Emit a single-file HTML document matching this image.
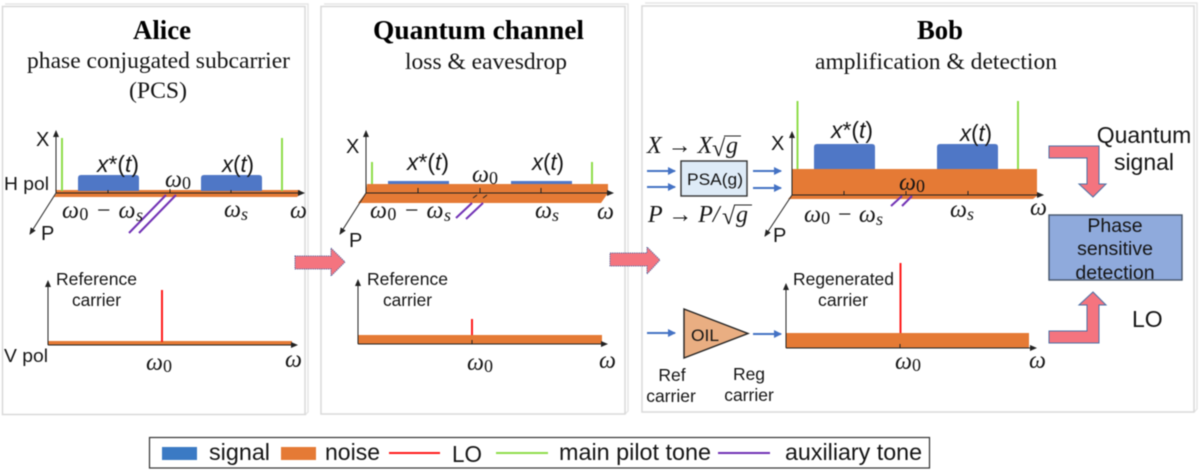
<!DOCTYPE html>
<html>
<head>
<meta charset="utf-8">
<title>Alice, Quantum channel, Bob</title>
<style>
html,body{margin:0;padding:0;background:#fff;width:1200px;height:471px;overflow:hidden}
svg{display:block;filter:blur(.45px)}
text{fill:#141414}
.s{font-family:"Liberation Sans",sans-serif}
.t{font-family:"Liberation Serif",serif}
.b{font-family:"Liberation Serif",serif;font-weight:bold;font-size:27px;fill:#000}
.st{font-family:"Liberation Serif",serif;font-size:23px}
.m{font-family:"Liberation Serif",serif;font-style:italic;font-size:24px}
.xt{font-family:"Liberation Sans",sans-serif;font-size:23px}
.xt .i{font-style:italic}
.sub{font-size:18px;font-style:normal}
.subi{font-size:18px}
.ax{stroke:#222;stroke-width:1;fill:none}
.panel{fill:#fff;stroke:#d9d9d9;stroke-width:1.5}
.bev{fill:none;stroke:#e6e6e6;stroke-width:1.5}
</style>
</head>
<body>
<svg width="1200" height="471" viewBox="0 0 1200 471" xmlns="http://www.w3.org/2000/svg">
<defs>
<marker id="a" markerWidth="7" markerHeight="6" refX="6" refY="3" orient="auto" markerUnits="userSpaceOnUse"><path d="M0,0 L7,3 L0,6 Z" fill="#222"/></marker>
<marker id="bl" markerWidth="8" markerHeight="8" refX="7" refY="4" orient="auto" markerUnits="userSpaceOnUse"><path d="M0,0 L8,4 L0,8 Z" fill="#4472c4"/></marker>
</defs>

<!-- panels -->
<path class="bev" d="M5,4 H308 V412 L305,415"/>
<rect class="panel" x="2.5" y="6.5" width="302.5" height="408"/>
<path class="bev" d="M324,4 H628 V411 L625,414"/>
<rect class="panel" x="321" y="6.5" width="304" height="407.5"/>
<path class="bev" d="M645,3 H1197 V409 L1194,412"/>
<rect class="panel" x="642" y="6" width="552" height="406"/>

<!-- titles -->
<text class="b" x="133" y="39" textLength="58" lengthAdjust="spacingAndGlyphs">Alice</text>
<text class="st" x="27" y="68" textLength="263" lengthAdjust="spacingAndGlyphs">phase conjugated subcarrier</text>
<text class="st" x="129" y="98" textLength="58" lengthAdjust="spacingAndGlyphs">(PCS)</text>
<text class="b" x="373" y="39" textLength="211" lengthAdjust="spacingAndGlyphs">Quantum channel</text>
<text class="st" x="405" y="69" textLength="162" lengthAdjust="spacingAndGlyphs">loss &amp; eavesdrop</text>
<text class="b" x="917" y="39" textLength="46" lengthAdjust="spacingAndGlyphs">Bob</text>
<text class="st" x="815" y="69" textLength="242" lengthAdjust="spacingAndGlyphs">amplification &amp; detection</text>

<!-- ALICE top chart -->
<path d="M55,190 H300 V194 L297,197 H54 L57,193 Z" fill="#e57a35"/>
<line x1="62" y1="138" x2="62" y2="191" stroke="#8fdc4a" stroke-width="2"/>
<line x1="282" y1="138" x2="282" y2="191" stroke="#8fdc4a" stroke-width="2"/>
<path d="M78,191 V178 Q78,175 81,175 H136 Q139,175 139,178 V191 Z" fill="#4f77c6"/>
<path d="M201,191 V178 Q201,175 204,175 H259 Q262,175 262,178 V191 Z" fill="#4f77c6"/>
<line class="ax" x1="56" y1="193" x2="56" y2="131" marker-end="url(#a)"/>
<line class="ax" x1="56" y1="193" x2="304" y2="193" marker-end="url(#a)"/>
<line class="ax" x1="56" y1="193" x2="30" y2="234" marker-end="url(#a)"/>
<path class="ax" d="M108,190 V193 M170,189 V193 M231,190 V193"/>
<line x1="129" y1="233" x2="166" y2="195" stroke="#7132b5" stroke-width="2"/>
<line x1="139" y1="233" x2="176" y2="195" stroke="#7132b5" stroke-width="2"/>
<text class="s" x="36" y="146" font-size="20">X</text>
<text class="s" x="4" y="190" font-size="18" textLength="45" lengthAdjust="spacingAndGlyphs">H pol</text>
<text class="s" x="41" y="240" font-size="20">P</text>
<text class="xt" x="97" y="172" textLength="42" lengthAdjust="spacingAndGlyphs"><tspan class="i">x</tspan>*(<tspan class="i">t</tspan>)</text>
<text class="xt" x="222" y="172" textLength="32" lengthAdjust="spacingAndGlyphs"><tspan class="i">x</tspan>(<tspan class="i">t</tspan>)</text>
<text class="m" x="165" y="187">ω<tspan class="sub" dy="2">0</tspan></text>
<text class="m" x="62" y="218" textLength="81" lengthAdjust="spacing">ω<tspan class="sub" dy="2">0</tspan><tspan dy="-2"> − ω</tspan><tspan class="subi" dy="3">s</tspan></text>
<text class="m" x="224" y="217">ω<tspan class="subi" dy="3">s</tspan></text>
<text class="m" x="290" y="218">ω</text>

<!-- ALICE bottom chart -->
<rect x="48" y="341" width="244" height="4" fill="#e57a35"/>
<line x1="162" y1="290" x2="162" y2="342" stroke="#ff1a1a" stroke-width="2"/>
<line class="ax" x1="48" y1="345" x2="48" y2="281" marker-end="url(#a)"/>
<line class="ax" x1="48" y1="345" x2="297" y2="345" marker-end="url(#a)"/>
<text class="s" x="56" y="285" font-size="17.5" textLength="81" lengthAdjust="spacingAndGlyphs">Reference</text>
<text class="s" x="72" y="306" font-size="17.5" textLength="49" lengthAdjust="spacingAndGlyphs">carrier</text>
<text class="s" x="4" y="362" font-size="18" textLength="44" lengthAdjust="spacingAndGlyphs">V pol</text>
<text class="m" x="146" y="370">ω<tspan class="sub" dy="2">0</tspan></text>
<text class="m" x="285" y="367">ω</text>

<!-- CHANNEL top chart -->
<path d="M367,184 H608 V193 L601,203 H358 L366,193 Z" fill="#e57a35"/>
<line x1="372" y1="162" x2="372" y2="184" stroke="#8fdc4a" stroke-width="2"/>
<line x1="592" y1="162" x2="592" y2="184" stroke="#8fdc4a" stroke-width="2"/>
<rect x="388" y="181" width="61" height="3" fill="#4f77c6"/>
<rect x="511" y="181" width="61" height="3" fill="#4f77c6"/>
<line class="ax" x1="366" y1="193" x2="366" y2="131" marker-end="url(#a)"/>
<line class="ax" x1="366" y1="193" x2="613" y2="193" marker-end="url(#a)"/>
<line class="ax" x1="366" y1="193" x2="340" y2="234" marker-end="url(#a)"/>
<path class="ax" d="M418,188 V193 M480,188 V193 M541,188 V193"/>
<path class="ax" d="M473,198 L477,195 M483,198 L487,195"/>
<line x1="456" y1="218" x2="472" y2="203" stroke="#7132b5" stroke-width="2"/>
<line x1="466" y1="219" x2="483" y2="203" stroke="#7132b5" stroke-width="2"/>
<text class="s" x="346" y="153" font-size="20">X</text>
<text class="s" x="349" y="247" font-size="20">P</text>
<text class="xt" x="407" y="170" textLength="42" lengthAdjust="spacingAndGlyphs"><tspan class="i">x</tspan>*(<tspan class="i">t</tspan>)</text>
<text class="xt" x="532" y="170" textLength="32" lengthAdjust="spacingAndGlyphs"><tspan class="i">x</tspan>(<tspan class="i">t</tspan>)</text>
<text class="m" x="472" y="182">ω<tspan class="sub" dy="2">0</tspan></text>
<text class="m" x="370" y="218" textLength="81" lengthAdjust="spacing">ω<tspan class="sub" dy="2">0</tspan><tspan dy="-2"> − ω</tspan><tspan class="subi" dy="3">s</tspan></text>
<text class="m" x="535" y="218">ω<tspan class="subi" dy="3">s</tspan></text>
<text class="m" x="597" y="219">ω</text>

<!-- CHANNEL bottom chart -->
<rect x="358" y="335" width="244" height="9" fill="#e57a35"/>
<line x1="472" y1="319" x2="472" y2="335" stroke="#ff1a1a" stroke-width="2"/>
<line class="ax" x1="358" y1="344" x2="358" y2="280" marker-end="url(#a)"/>
<line class="ax" x1="358" y1="344" x2="607" y2="344" marker-end="url(#a)"/>
<line class="ax" x1="472" y1="340" x2="472" y2="344"/>
<text class="s" x="367" y="285" font-size="17.5" textLength="81" lengthAdjust="spacingAndGlyphs">Reference</text>
<text class="s" x="383" y="306" font-size="17.5" textLength="49" lengthAdjust="spacingAndGlyphs">carrier</text>
<text class="m" x="467" y="370">ω<tspan class="sub" dy="2">0</tspan></text>
<text class="m" x="599" y="368">ω</text>

<!-- BOB PSA -->
<text class="m" x="647" y="153" font-size="24">X → X</text>
<text class="t" x="712" y="156" font-size="24">√</text>
<line x1="724" y1="136" x2="741" y2="136" stroke="#222" stroke-width="1"/>
<text class="m" x="726" y="153">g</text>
<text class="m" x="648" y="222">P → P/</text>
<text class="t" x="722" y="224" font-size="24">√</text>
<line x1="734" y1="205" x2="752" y2="205" stroke="#222" stroke-width="1"/>
<text class="m" x="736" y="222">g</text>
<rect x="681" y="161" width="66" height="35" fill="#deebf7" stroke="#333" stroke-width="1.4"/>
<text class="s" x="687" y="185" font-size="17" textLength="56" lengthAdjust="spacingAndGlyphs">PSA(g)</text>
<g stroke="#4472c4" stroke-width="2">
<line x1="647" y1="171" x2="675" y2="171" marker-end="url(#bl)"/>
<line x1="647" y1="187" x2="675" y2="187" marker-end="url(#bl)"/>
<line x1="753" y1="171" x2="781" y2="171" marker-end="url(#bl)"/>
<line x1="753" y1="188" x2="781" y2="188" marker-end="url(#bl)"/>
<line x1="647" y1="333" x2="675" y2="333" marker-end="url(#bl)"/>
<line x1="753" y1="334" x2="781" y2="334" marker-end="url(#bl)"/>
</g>

<!-- BOB top chart -->
<path d="M792,169 H1037 V196 L1033,199 H788 L792,195 Z" fill="#e57a35"/>
<line x1="797.5" y1="101" x2="797.5" y2="169" stroke="#8fdc4a" stroke-width="2"/>
<line x1="1018" y1="101" x2="1018" y2="169" stroke="#8fdc4a" stroke-width="2"/>
<path d="M814,169 V147 Q814,144 817,144 H872 Q875,144 875,147 V169 Z" fill="#4f77c6"/>
<path d="M937,169 V147 Q937,144 940,144 H995 Q998,144 998,147 V169 Z" fill="#4f77c6"/>
<line class="ax" x1="792" y1="195" x2="792" y2="132" marker-end="url(#a)"/>
<line class="ax" x1="792" y1="195" x2="1043" y2="195" marker-end="url(#a)"/>
<line class="ax" x1="792" y1="195" x2="765" y2="236" marker-end="url(#a)"/>
<path class="ax" d="M844,191 V195 M906,191 V195 M968,191 V195"/>
<line x1="891" y1="206" x2="902" y2="196" stroke="#7132b5" stroke-width="2"/>
<line x1="902" y1="206" x2="912" y2="196" stroke="#7132b5" stroke-width="2"/>
<text class="s" x="771" y="150" font-size="20">X</text>
<text class="s" x="773" y="242" font-size="20">P</text>
<text class="xt" x="831" y="138" textLength="42" lengthAdjust="spacingAndGlyphs"><tspan class="i">x</tspan>*(<tspan class="i">t</tspan>)</text>
<text class="xt" x="960" y="141" textLength="32" lengthAdjust="spacingAndGlyphs"><tspan class="i">x</tspan>(<tspan class="i">t</tspan>)</text>
<text class="m" x="899" y="190">ω<tspan class="sub" dy="2">0</tspan></text>
<text class="m" x="804" y="222" textLength="79" lengthAdjust="spacing">ω<tspan class="sub" dy="2">0</tspan><tspan dy="-2"> − ω</tspan><tspan class="subi" dy="3">s</tspan></text>
<text class="m" x="950" y="217">ω<tspan class="subi" dy="3">s</tspan></text>
<text class="m" x="1030" y="215">ω</text>

<!-- BOB bottom -->
<path d="M684,309 L748,333.5 L684,358 Z" fill="#e9ae82" stroke="#222" stroke-width="1.4"/>
<text class="s" x="691" y="341" font-size="17" textLength="28" lengthAdjust="spacingAndGlyphs">OIL</text>
<text class="s" x="672" y="381" font-size="17.5" text-anchor="middle">Ref</text>
<text class="s" x="671" y="402" font-size="17.5" text-anchor="middle">carrier</text>
<text class="s" x="749" y="380" font-size="17.5" text-anchor="middle">Reg</text>
<text class="s" x="749" y="401" font-size="17.5" text-anchor="middle">carrier</text>
<rect x="786" y="333" width="243" height="15" fill="#e57a35"/>
<line x1="900.5" y1="263" x2="900.5" y2="333" stroke="#ff1a1a" stroke-width="2"/>
<line class="ax" x1="786" y1="348" x2="786" y2="284" marker-end="url(#a)"/>
<line class="ax" x1="786" y1="348" x2="1036" y2="348" marker-end="url(#a)"/>
<line class="ax" x1="900" y1="344" x2="900" y2="348"/>
<text class="s" x="793" y="285" font-size="17.5" textLength="101" lengthAdjust="spacingAndGlyphs">Regenerated</text>
<text class="s" x="818" y="306" font-size="17.5" textLength="50" lengthAdjust="spacingAndGlyphs">carrier</text>
<text class="m" x="895" y="369">ω<tspan class="sub" dy="2">0</tspan></text>
<text class="m" x="1029" y="368">ω</text>

<!-- detection -->
<rect x="1049" y="215" width="133" height="65" fill="#8faadc" stroke="#44546a" stroke-width="1.4"/>
<text class="s" x="1115" y="232" font-size="19.5" text-anchor="middle">Phase</text>
<text class="s" x="1115" y="255" font-size="19.5" text-anchor="middle">sensitive</text>
<text class="s" x="1115" y="279" font-size="19.5" text-anchor="middle">detection</text>
<text class="s" x="1144" y="143" font-size="23" text-anchor="middle">Quantum</text>
<text class="s" x="1144" y="170" font-size="23" text-anchor="middle">signal</text>
<text class="s" x="1132" y="327" font-size="23">LO</text>
<path d="M1049,146 H1099 V184 H1106 L1093,197 L1079,184 H1087 V158 H1049 Z" fill="#f4747f" stroke="#4a6fa5" stroke-width="1"/>
<path d="M1049,331 H1087 V305 H1079 L1093,292 L1106,305 H1099 V343 H1049 Z" fill="#f4747f" stroke="#4a6fa5" stroke-width="1"/>

<!-- between-panel arrows -->
<path d="M295,256 H331 V248 L345,262 L331,276 V269 H295 Z" fill="#f4747f" stroke="#4a5f9a" stroke-width="1" stroke-dasharray="1.2 1"/>
<path d="M610,253 H647 V247 L660,260 L647,274 V266 H610 Z" fill="#f4747f" stroke="#4a5f9a" stroke-width="1" stroke-dasharray="1.2 1"/>

<!-- legend -->
<rect x="149.500" y="437.500" width="780" height="30.500" fill="#fff" stroke="#333" stroke-width="1.2"/>
<rect x="162" y="447" width="35" height="13" fill="#3b7ac4"/>
<text class="s" x="209" y="460" font-size="23.500" textLength="61" lengthAdjust="spacingAndGlyphs">signal</text>
<rect x="281" y="447" width="35" height="13" fill="#e57a35"/>
<text class="s" x="325" y="460" font-size="23.500" textLength="55" lengthAdjust="spacingAndGlyphs">noise</text>
<line x1="389" y1="453" x2="440" y2="453" stroke="#ff1a1a" stroke-width="2"/>
<text class="s" x="452" y="462" font-size="23.500" textLength="30" lengthAdjust="spacingAndGlyphs">LO</text>
<line x1="496" y1="453" x2="548" y2="453" stroke="#8fdc4a" stroke-width="2"/>
<text class="s" x="559" y="460" font-size="23.500" textLength="152" lengthAdjust="spacingAndGlyphs">main pilot tone</text>
<line x1="718" y1="453" x2="770" y2="453" stroke="#7132b5" stroke-width="2"/>
<text class="s" x="785" y="460" font-size="23.500" textLength="137" lengthAdjust="spacingAndGlyphs">auxiliary tone</text>
</svg>
</body>
</html>
